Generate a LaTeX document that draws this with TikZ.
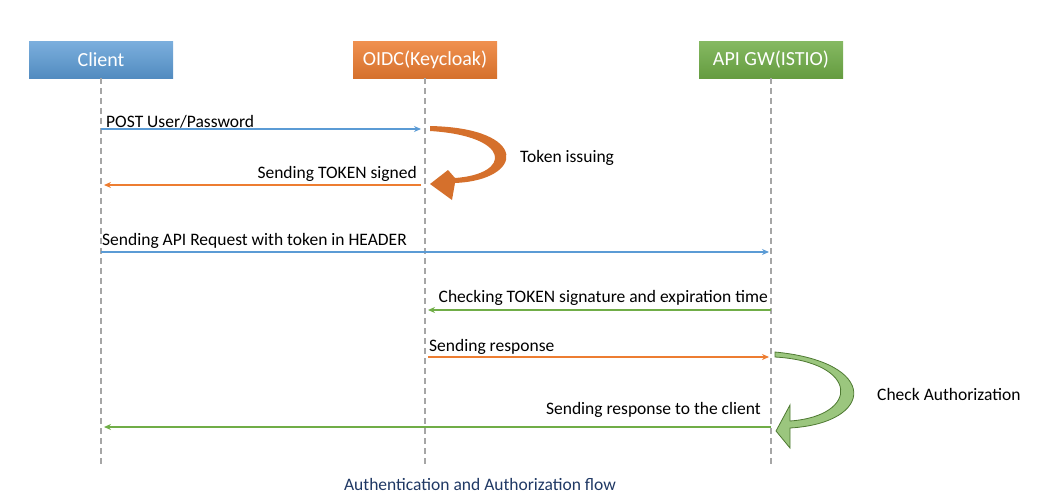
\documentclass[tikz,border=0pt]{standalone}
\usepackage{fontspec}
\setmainfont{Carlito}
\usetikzlibrary{arrows.meta}
\definecolor{cb}{HTML}{5B9BD5}
\definecolor{co}{HTML}{ED7D31}
\definecolor{cg}{HTML}{70AD47}
\definecolor{cap}{HTML}{1F3864}
\begin{document}
\begin{tikzpicture}[x=1pt,y=-1pt,
 box/.style={minimum width=144pt,minimum height=37pt,text=white,font=\fontsize{20}{24}\selectfont,inner sep=0pt},
 life/.style={gray!70,dashed,line width=2pt,dash pattern=on 6pt off 4pt},
 msg/.style={line width=1.5pt,-{Stealth[length=7pt,width=6pt]}},
 lbl/.style={font=\fontsize{17.5}{20}\selectfont,inner sep=1pt}]
\useasboundingbox (0,0) rectangle (1044,501);
\node[box,top color=cb!80,bottom color=cb!90!black] (c) at (101,59.5) {Client};
\node[box,top color=co!85,bottom color=co!90!black] (o) at (425,59.5) {OIDC(Keycloak)};
\node[box,top color=cg!85,bottom color=cg!90!black] (a) at (771,59.5) {API GW(ISTIO)};
\coordinate (ce) at (101,468); \coordinate (oe) at (425,468); \coordinate (ae) at (771,468);
\draw[life] (c.south) -- (ce);
\draw[life] (o.south) -- (oe);
\draw[life] (a.south) -- (ae);
\coordinate (c1) at (101,129); \coordinate (o1) at (421,129);
\coordinate (o2) at (421,185); \coordinate (c2) at (104,185);
\coordinate (c3) at (101,252); \coordinate (a3) at (769,252);
\coordinate (a4) at (771,310); \coordinate (o4) at (428,310);
\coordinate (o5) at (428,357); \coordinate (a5) at (769,357);
\coordinate (a6) at (771,427); \coordinate (c6) at (104,427);
\draw[msg,cb] (c1) -- (o1);
\draw[msg,co] (o2) -- (c2);
\draw[msg,cb] (c3) -- (a3);
\draw[msg,cg] (a4) -- (o4);
\draw[msg,co] (o5) -- (a5);
\draw[msg,cg] (a6) -- (c6);
\node[lbl,anchor=south west] (l1) at (105,129) {POST User/Password};
\node[lbl,anchor=south east] (l2) at (418,183) {Sending TOKEN signed};
\node[lbl,anchor=south west] (l3) at (101,250) {Sending API Request with token in HEADER};
\node[lbl,anchor=south east] (l4) at (769,307) {Checking TOKEN signature and expiration time};
\node[lbl,anchor=south west] (l5) at (428,356) {Sending response};
\node[lbl,anchor=south east] (l6) at (762,419) {Sending response to the client};
\node[lbl,anchor=west] (t1) at (519,158) {Token issuing};
\node[lbl,anchor=west] (t2) at (876,394) {Check Authorization};
\node[font=\fontsize{17.5}{20}\selectfont,text=cap] (cp) at (480,484) {Authentication and Authorization flow};
\fill[co!90!black] (430,126) .. controls (530,128) and (525,180) .. (455,183)
  -- (452,200) -- (430,184) -- (448,170) -- (455,178)
  .. controls (512,174) and (512,136) .. (430,131) -- cycle;
\filldraw[draw=cg!70!black,fill=cg!70,line width=0.8pt] (775,352) .. controls (880,362) and (875,423) .. (790,428)
  -- (790,448) -- (776,431) -- (790,405) -- (790,421)
  .. controls (860,416) and (860,362) .. (775,357) -- cycle;
\end{tikzpicture}
\end{document}
